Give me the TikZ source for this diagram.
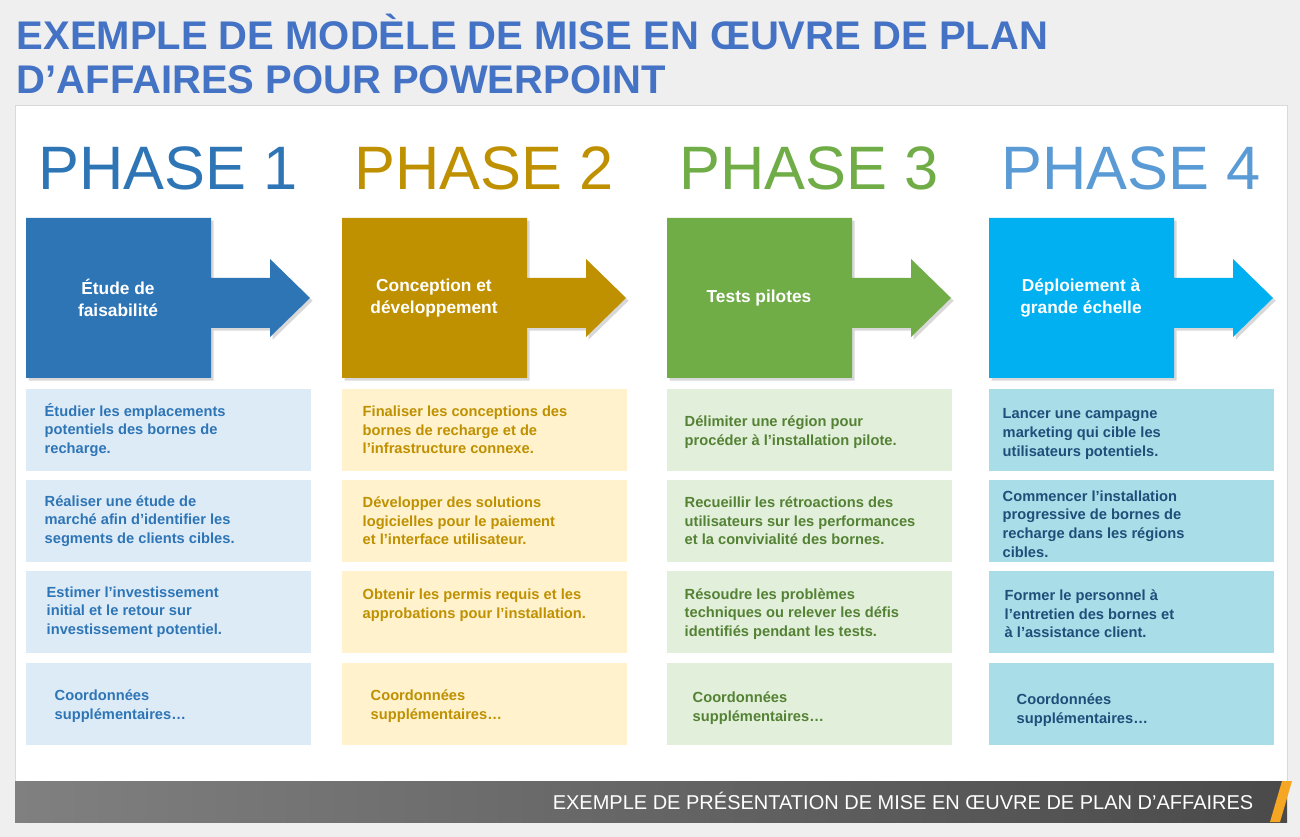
\documentclass[tikz,border=0pt]{standalone}
\usepackage{fontspec}
\setmainfont{Liberation Sans}
\usetikzlibrary{shadows}
\definecolor{bg}{HTML}{EFEFEF}
\definecolor{ttl}{HTML}{4472C4}
\definecolor{cA}{HTML}{2E75B6}\definecolor{lA}{HTML}{DDEBF7}\definecolor{tA}{HTML}{2E75B6}
\definecolor{cB}{HTML}{BF9000}\definecolor{lB}{HTML}{FFF2CC}\definecolor{tB}{HTML}{BF9000}
\definecolor{cC}{HTML}{70AD47}\definecolor{lC}{HTML}{E2EFDA}\definecolor{tC}{HTML}{548235}
\definecolor{cD}{HTML}{00B0F0}\definecolor{lD}{HTML}{A9DDE8}\definecolor{tD}{HTML}{1F4E79}
\definecolor{pD}{HTML}{5B9BD5}
\definecolor{gA}{HTML}{808080}\definecolor{gB}{HTML}{4A4A4A}
\definecolor{org}{HTML}{F5A623}
\tikzset{
  phasetxt/.style={anchor=west,font=\fontsize{46}{50}\selectfont},
  boxtxt/.style={text=white,font=\bfseries\fontsize{13}{16}\selectfont,align=center},
  itemtxt/.style={anchor=west,font=\bfseries\fontsize{11}{14}\selectfont,align=left},
}
\begin{document}
\begin{tikzpicture}[x=0.75pt,y=-0.75pt]
\useasboundingbox (0,0) rectangle (1300,837);
\fill[bg] (0,0) rectangle (1300,837);
\fill[white,draw=black!15] (15,105) rectangle (1287,781);
\node[anchor=west,text=ttl,font=\bfseries\fontsize{30}{34}\selectfont] (t1) at (12,32) {EXEMPLE DE MODÈLE DE MISE EN ŒUVRE DE PLAN};
\node[anchor=west,text=ttl,font=\bfseries\fontsize{30}{34}\selectfont] (t2) at (12,80) {D’AFFAIRES POUR POWERPOINT};
% bottom bar
\shade[left color=gA,right color=gB] (15,781) rectangle (1287,822);
\fill[org] (1270,822) -- (1280,822) -- (1292,781) -- (1282,781) -- cycle;
\node[anchor=east,text=white,font=\fontsize{15}{18}\selectfont] (foot) at (1258,801) {EXEMPLE DE PRÉSENTATION DE MISE EN ŒUVRE DE PLAN D’AFFAIRES};
% phases
\foreach \x/\c/\l/\t/\p/\n in {26/cA/lA/tA/cA/1, 342/cB/lB/tB/cB/2, 667/cC/lC/tC/cC/3, 989/cD/lD/tD/pD/4}{
  \node[phasetxt,text=\p] (ph\n) at (\x+8,168) {PHASE \n};
  \fill[\c,drop shadow={opacity=0.3,shadow xshift=2pt,shadow yshift=-2pt}] (\x,218) -- (\x+185,218) -- (\x+185,278) -- (\x+244,278) -- (\x+244,259) -- (\x+284,298) -- (\x+244,337) -- (\x+244,328) -- (\x+185,328) -- (\x+185,378) -- (\x,378) -- cycle;
  \foreach \y in {389,480,571,663}{
    \fill[\l] (\x,\y) rectangle (\x+285,\y+82);
  }
}
\node[boxtxt] (b1) at (118,298) {Étude de\\faisabilité};
\node[boxtxt] (b2) at (434,298) {Conception et\\développement};
\node[boxtxt] (b3) at (759,298) {Tests pilotes};
\node[boxtxt] (b4) at (1081,298) {Déploiement à\\grande échelle};
% items phase 1
\node[itemtxt,text=tA] (a1) at (40,430) {Étudier les emplacements\\potentiels des bornes de\\recharge.};
\node[itemtxt,text=tA] (a2) at (40,521) {Réaliser une étude de\\marché afin d’identifier les\\segments de clients cibles.};
\node[itemtxt,text=tA] (a3) at (42,612) {Estimer l’investissement\\initial et le retour sur\\investissement potentiel.};
\node[itemtxt,text=tA] (a4) at (50,706) {Coordonnées\\supplémentaires…};
% phase 2
\node[itemtxt,text=tB] (c1) at (358,430) {Finaliser les conceptions des\\bornes de recharge et de\\l’infrastructure connexe.};
\node[itemtxt,text=tB] (c2) at (358,521) {Développer des solutions\\logicielles pour le paiement\\et l’interface utilisateur.};
\node[itemtxt,text=tB] (c3) at (358,605) {Obtenir les permis requis et les\\approbations pour l’installation.};
\node[itemtxt,text=tB] (c4) at (366,706) {Coordonnées\\supplémentaires…};
% phase 3
\node[itemtxt,text=tC] (d1) at (680,432) {Délimiter une région pour\\procéder à l’installation pilote.};
\node[itemtxt,text=tC] (d2) at (680,521) {Recueillir les rétroactions des\\utilisateurs sur les performances\\et la convivialité des bornes.};
\node[itemtxt,text=tC] (d3) at (680,614) {Résoudre les problèmes\\techniques ou relever les défis\\identifiés pendant les tests.};
\node[itemtxt,text=tC] (d4) at (688,708) {Coordonnées\\supplémentaires…};
% phase 4
\node[itemtxt,text=tD] (e1) at (998,434) {Lancer une campagne\\marketing qui cible les\\utilisateurs potentiels.};
\node[itemtxt,text=tD] (e2) at (998,524) {Commencer l’installation\\progressive de bornes de\\recharge dans les régions\\cibles.};
\node[itemtxt,text=tD] (e3) at (1000,614) {Former le personnel à\\l’entretien des bornes et\\à l’assistance client.};
\node[itemtxt,text=tD] (e4) at (1012,710) {Coordonnées\\supplémentaires…};
\end{tikzpicture}
\end{document}
